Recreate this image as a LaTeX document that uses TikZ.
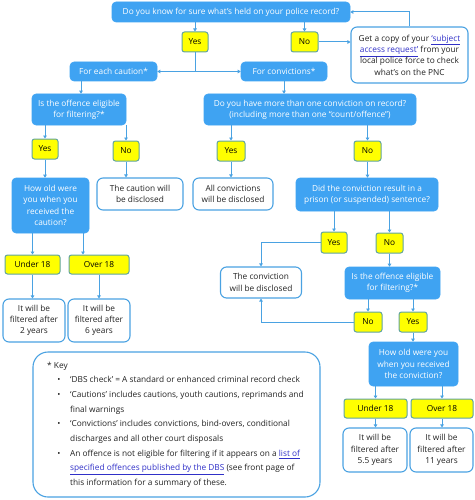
\documentclass[tikz,border=0pt]{standalone}
\usepackage{fontspec}
\setmainfont{Open Sans}
\usetikzlibrary{arrows.meta}
\definecolor{qblue}{HTML}{3FA3F2}
\definecolor{lblue}{HTML}{4AA2E2}
\definecolor{yel}{HTML}{FFFF00}
\definecolor{yborder}{HTML}{5FA3A0}
\definecolor{txt}{HTML}{222222}
\definecolor{linkc}{HTML}{3030C8}
\newcommand{\fs}{\fontsize{8.3}{11.3}\selectfont}
\newcommand{\lnk}[1]{{\color{linkc}\underline{#1}}}
\tikzset{
  basebox/.style={rounded corners=4pt, inner sep=0pt, align=center, font=\fs},
  bq/.style={basebox, fill=qblue, draw=qblue, text=white, line width=0.6pt},
  wb/.style={basebox, fill=white, draw=lblue, line width=1.1pt, text=txt, rounded corners=6pt},
  yb/.style={basebox, fill=yel, draw=yborder, line width=1pt, rounded corners=2.5pt, text=black},
  arr/.style={draw=lblue, line width=1pt, -{Triangle[length=3pt,width=3.6pt]}},
  ln/.style={draw=lblue, line width=1pt},
  keyline/.style={anchor=base west, inner sep=0pt, font=\fs, text=txt},
}
\begin{document}
\begin{tikzpicture}[x=1pt,y=-1pt]
\useasboundingbox (0,0) rectangle (474,500);
% nodes
\node[bq, minimum width=238pt, minimum height=20pt] (q1) at (231,12) {Do you know for sure what’s held on your police record?};
\node[yb, minimum width=26pt, minimum height=20pt] (yes1) at (195,42) {Yes};
\node[yb, minimum width=27pt, minimum height=20pt] (no1) at (304.5,42) {No};
\node[wb, minimum width=117pt, minimum height=56pt] (sar) at (409.5,55) {Get a copy of your \lnk{‘subject}\\\lnk{access request’} from your\\local police force to check\\what’s on the PNC};
\node[bq, minimum width=87pt, minimum height=19pt] (caution) at (113.5,71.5) {For each caution*};
\node[bq, minimum width=86pt, minimum height=19pt] (convictions) at (284,71.5) {For convictions*};
\node[bq, minimum width=94pt, minimum height=31pt] (elig1) at (79,109.5) {Is the offence eligible\\for filtering?*};
\node[bq, minimum width=212pt, minimum height=31pt] (more) at (310,109.5) {Do you have more than one conviction on record?\\(including more than one “count/offence”)};
\node[yb, minimum width=26pt, minimum height=20pt] (yes2) at (45,149) {Yes};
\node[yb, minimum width=26pt, minimum height=20pt] (no2) at (126,151) {No};
\node[yb, minimum width=28pt, minimum height=20pt] (yes3) at (231,151) {Yes};
\node[yb, minimum width=27pt, minimum height=20pt] (no3) at (367.5,151) {No};
\node[bq, minimum width=77pt, minimum height=55pt] (howold1) at (50.5,205.5) {How old were\\you when you\\received the\\caution?};
\node[wb, minimum width=86pt, minimum height=32pt] (cautdisc) at (140,194) {The caution will\\be disclosed};
\node[wb, minimum width=80pt, minimum height=32pt] (alldisc) at (233,194) {All convictions\\will be disclosed};
\node[bq, minimum width=142pt, minimum height=33pt] (prison) at (367,194.5) {Did the conviction result in a\\prison (or suspended) sentence?};
\node[yb, minimum width=55pt, minimum height=19pt] (under1) at (32.5,264.5) {Under 18};
\node[yb, minimum width=60pt, minimum height=19pt] (over1) at (99,264.5) {Over 18};
\node[wb, minimum width=62pt, minimum height=43pt] (res1) at (34,320.5) {It will be\\filtered after\\2 years};
\node[wb, minimum width=62pt, minimum height=43pt] (res2) at (99,320.5) {It will be\\filtered after\\6 years};
\node[yb, minimum width=26pt, minimum height=21pt] (yes4) at (334,242.5) {Yes};
\node[yb, minimum width=27pt, minimum height=20pt] (no4) at (389.5,243) {No};
\node[wb, minimum width=81pt, minimum height=31pt] (convdisc) at (261,282.5) {The conviction\\will be disclosed};
\node[bq, minimum width=95pt, minimum height=32pt] (elig2) at (392.5,283) {Is the offence eligible\\for filtering?*};
\node[yb, minimum width=28pt, minimum height=20pt] (no5) at (368,322) {No};
\node[yb, minimum width=28pt, minimum height=20pt] (yes5) at (413,322) {Yes};
\node[bq, minimum width=89pt, minimum height=44pt] (howold2) at (413.5,364) {How old were you\\when you received\\the conviction?};
\node[yb, minimum width=63pt, minimum height=19pt] (under2) at (375.5,408.5) {Under 18};
\node[yb, minimum width=62pt, minimum height=19pt] (over2) at (442,408.5) {Over 18};
\node[wb, minimum width=64pt, minimum height=44pt] (res3) at (375,450) {It will be\\filtered after\\5.5 years};
\node[wb, minimum width=63pt, minimum height=44pt] (res4) at (441.5,450) {It will be\\filtered after\\11 years};
% key
\node[draw=lblue, line width=1.1pt, rounded corners=15pt, fill=white, minimum width=287pt, minimum height=145pt, inner sep=0pt] (key) at (176.5,424.5) {};
\node[keyline] (k0) at (47,368.5) {* Key};
\node[keyline] (k1) at (70,382.5) {‘DBS check’ = A standard or enhanced criminal record check};
\node[keyline] (k2) at (70,397.5) {‘Cautions’ includes cautions, youth cautions, reprimands and};
\node[keyline] (k3) at (70,412.5) {final warnings};
\node[keyline] (k4) at (70,426.5) {‘Convictions’ includes convictions, bind-overs, conditional};
\node[keyline] (k5) at (70,441.5) {discharges and all other court disposals};
\node[keyline] (k6) at (70,456.5) {An offence is not eligible for filtering if it appears on a \lnk{list of}};
\node[keyline] (k7) at (70,470.5) {\lnk{specified offences published by the DBS} (see front page of};
\node[keyline] (k8) at (70,485.5) {this information for a summary of these.};
\foreach \k in {k1,k2,k4,k6} { \node[keyline, anchor=base] at ([xshift=-11pt]\k.base west) {\textbullet}; }
% connectors
\draw[arr] (q1.south -| yes1.north) -- (yes1.north);
\draw[arr] (q1.south -| no1.north) -- (no1.north);
\draw[arr] (no1.east) -- (no1.east -| sar.west);
\draw[arr] (sar.north) |- (q1.east);
\coordinate (j1) at (yes1.south |- caution.east);
\draw[ln] (yes1.south) -- (j1);
\draw[arr] (j1) -- (caution.east);
\draw[arr] (j1) -- (convictions.west);
\draw[arr] ([xshift=-32.5pt]caution.south) -- ([xshift=-32.5pt]caution.south |- elig1.north);
\draw[arr] (convictions.south) -- (convictions.south |- more.north);
\draw[arr] (elig1.south -| yes2.north) -- (yes2.north);
\draw[arr] (elig1.south -| no2.north) -- (no2.north);
\draw[arr] (more.south -| yes3.north) -- (yes3.north);
\draw[arr] (more.south -| no3.north) -- (no3.north);
\draw[arr] (yes2.south) -- (yes2.south |- howold1.north);
\draw[arr] (no2.south) -- (no2.south |- cautdisc.north);
\draw[arr] (yes3.south) -- (yes3.south |- alldisc.north);
\draw[arr] (no3.south) -- (no3.south |- prison.north);
\draw[arr] (howold1.south -| under1.north) -- (under1.north);
\draw[arr] ([xshift=32.5pt]howold1.south) -- ([xshift=32.5pt]howold1.south |- over1.north);
\draw[arr] (under1.south) -- (under1.south |- res1.north);
\draw[arr] (over1.south) -- (over1.south |- res2.north);
\draw[arr] (prison.south -| yes4.north) -- (yes4.north);
\draw[arr] (prison.south -| no4.north) -- (no4.north);
\draw[arr] (yes4.west) -| (convdisc.north);
\draw[arr] (no4.south) -- (no4.south |- elig2.north);
\draw[arr] (elig2.south -| no5.north) -- (no5.north);
\draw[arr] (elig2.south -| yes5.north) -- (yes5.north);
\draw[arr] (no5.west) -| (convdisc.south);
\draw[arr] (yes5.south) -- (yes5.south |- howold2.north);
\draw[arr] (howold2.south -| under2.north) -- (under2.north);
\draw[arr] (howold2.south -| over2.north) -- (over2.north);
\draw[arr] (under2.south) -- (under2.south |- res3.north);
\draw[arr] (over2.south) -- (over2.south |- res4.north);
\end{tikzpicture}
\end{document}
